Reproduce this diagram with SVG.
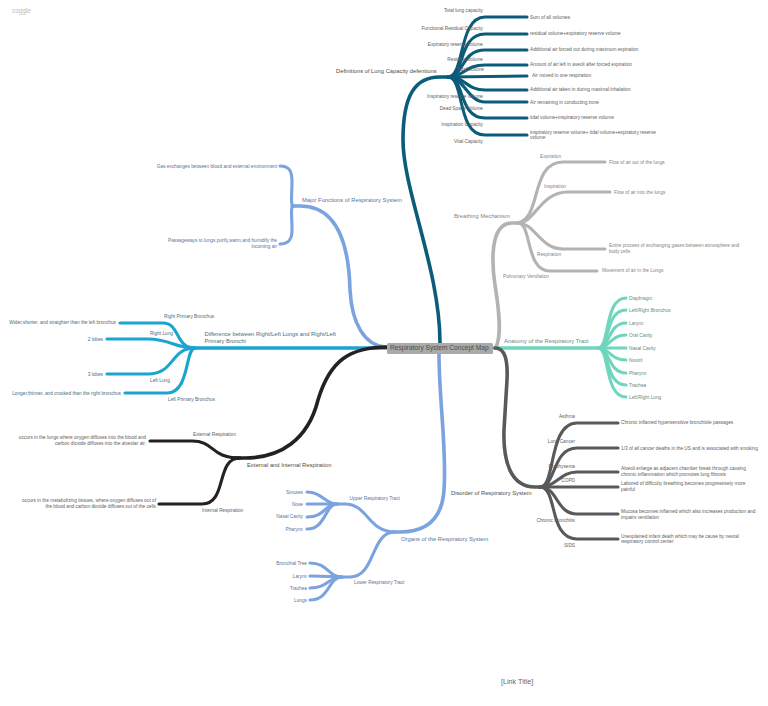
<svg xmlns="http://www.w3.org/2000/svg" width="768" height="706" viewBox="0 0 768 706">
<style>
text{font-family:"Liberation Sans",Arial,sans-serif;font-size:4.75px;fill:#5e5e5e}
.e{text-anchor:end}
.m{font-size:5.8px}
path{fill:none;stroke-linecap:round}
.w{stroke-width:3.1}
.t{stroke-width:3.6}
.teal{stroke:#0b5c7a}.grey{stroke:#b3b3b3}.mint{stroke:#6fd6bd}.dark{stroke:#595959}.blue{stroke:#7ba3e0}.cyan{stroke:#1aa5d0}.black{stroke:#222}
.tb{fill:#5a72a0}.tc{fill:#4a6c7e}.tg{fill:#848484}.tm{fill:#688a82}.tk{fill:#4c4c4c}
</style>
<rect width="768" height="706" fill="#fff"/>
<g id="connectors">
<g class="teal w">
<path class="t" d="M440 343C440 270 403 190 403 140C403 95 415 77 440 77L453 77"/>
<path d="M448 77C465 77 458 17 485 17L527 17"/>
<path d="M448 77C465 77 458 34 485 34L527 34"/>
<path d="M448 77C464 77 461 50 485 50L527 50"/>
<path d="M448 77C464 77 465 65 485 65L527 65"/>
<path d="M448 77L527 76"/>
<path d="M448 77C466 77 466 90 485 90L527 90"/>
<path d="M448 77C464 77 468 102 485 102L527 102"/>
<path d="M448 77C465 77 458 118 485 118L527 118"/>
<path d="M448 77C465 77 456 135 485 135L527 135"/>
</g>
<g class="grey w">
<path class="t" d="M496 347C502 335 499 310 495 285C492 265 489 223 512 223L522 223"/>
<path d="M518 223C542 218 530 162 563 162L605 162"/>
<path d="M518 223C535 223 540 192 568 192L610 192"/>
<path d="M518 223C535 223 540 249 563 249L605 249"/>
<path d="M518 223C532 223 525 271 550 271L597 271"/>
</g>
<g class="mint w">
<path class="t" d="M493 348L600 348"/>
<path d="M598 348C610 348 604 298 626 298"/>
<path d="M598 348C610 348 605 310 626 310"/>
<path d="M598 348C610 348 608 323 626 323"/>
<path d="M598 348C610 348 610 335 626 335"/>
<path d="M598 348L626 348"/>
<path d="M598 348C610 348 610 360 626 360"/>
<path d="M598 348C610 348 608 373 626 373"/>
<path d="M598 348C610 348 605 385 626 385"/>
<path d="M598 348C610 348 604 397 626 397"/>
</g>
<g class="dark w">
<path class="t" d="M495 348C505 348 508 360 507 380L504 430C503 460 510 487 535 487L545 487"/>
<path d="M540 487C556 487 548 423 577 423L618 423"/>
<path d="M540 487C556 487 552 448 577 448L618 448"/>
<path d="M540 487C556 487 560 472 577 472L618 472"/>
<path d="M540 487L618 487"/>
<path d="M540 487C558 487 556 514 577 514L618 514"/>
<path d="M540 487C558 487 548 539 577 539L618 539"/>
</g>
<g class="blue w">
<path class="t" d="M385 347C365 345 352 325 350 290C349 250 340 206 300 206L292 206"/>
<path d="M294 206C290 206 292 195 292 182C292 172 290 166 280 166"/>
<path d="M294 206C290 206 292 215 292 230C292 238 290 244 280 244"/>
<path class="t" d="M439 354C439 400 447 450 444 490C442 520 425 532 400 532L392 532"/>
<path d="M395 532C368 532 368 504 345 504L328 504"/>
<path d="M395 532C370 532 376 577 350 577L332 577"/>
<path d="M337 504C325 504 322 492 307 492"/>
<path d="M337 504L307 504"/>
<path d="M337 504C325 504 325 517 307 517"/>
<path d="M337 504C325 504 326 529 307 529"/>
<path d="M342 577C328 577 328 563 310 563"/>
<path d="M342 577C330 577 328 576 310 576"/>
<path d="M342 577C328 577 328 588 310 588"/>
<path d="M342 577C328 577 330 600 310 600"/>
</g>
<g class="cyan w">
<path class="t" d="M387 348L188 348"/>
<path d="M195 348C175 348 180 323 163 323L120 323"/>
<path d="M195 348C175 348 170 339 148 339L107 339"/>
<path d="M195 348C170 348 175 374 148 374L107 374"/>
<path d="M195 348C185 348 190 393 167 393L125 393"/>
</g>
<g class="black w">
<path class="t" d="M388 347C350 347 330 360 318 400C308 440 280 458 245 458L235 458"/>
<path d="M240 458C210 458 215 441 192 441L150 441"/>
<path d="M240 458C215 458 228 504 202 504L159 504"/>
</g>
</g>
<g id="root"><rect x="387" y="343" width="106" height="11" rx="1.5" fill="#aaa"/><text x="390" y="350" style="font-size:6.6px;fill:#4c4c4c">Respiratory System Concept Map</text></g>
<g id="definitions"><text class="m tk" x="336" y="72.5">Definitions of Lung Capacity defentions</text>
<text class="e" x="483" y="12">Total lung capacity</text><text class="e" x="483" y="30">Functional Residual Capacity</text><text class="e" x="483" y="46">Expiratory reserve volume</text><text class="e" x="483" y="61">Residual Volume</text><text class="e" x="484" y="71">Tidal Volume</text><text class="e" x="483" y="98">Inspiratory reserve volume</text><text class="e" x="483" y="110">Dead Space Volume</text><text class="e" x="483" y="126">Inspiration Capacity</text><text class="e" x="483" y="143">Vital Capacity</text>
<text x="530" y="18.5">Sum of all volumes</text><text x="530" y="35">residual volume+expiratory reserve volume</text><text x="530" y="51">Additional air forced out during maximum expiration</text><text x="530" y="66">Amount of air left in aveoli after forced expiration</text><text x="532" y="76.5">Air moved in one respiration</text><text x="530" y="91">Additional air taken in during maximal inhalation</text><text x="530" y="104">Air remaining in conducting zone</text><text x="530" y="119">tidal volume+inspiratory reserve volume</text><text x="530" y="133.5">inspiratory reserve volume+ tidal volume+expiratory reserve</text><text x="530" y="139">volume</text></g>
<g id="breathing"><text class="m tg" x="454" y="218">Breathing Mechanism</text>
<text class="tg" x="540" y="158">Expiration</text><text class="tg" x="544" y="187.5">Inspiration</text><text class="tg" x="537" y="255.5">Respiration</text><text class="tg" x="503" y="278">Pulmonary Ventilation</text>
<text class="tg" x="609" y="163.5">Flow of air out of the lungs</text><text class="tg" x="614" y="193.5">Flow of air into the lungs</text><text class="tg" x="609" y="246.5">Entire process of exchanging gases between atmosphere and</text><text class="tg" x="609" y="252.5">body cells</text><text class="tg" x="602" y="271.5">Movement of air in the Lungs</text></g>
<g id="anatomy"><text class="m tm" x="504" y="343">Anatomy of the Respiratory Tract</text>
<text class="tm" x="629" y="299.5">Diaphragm</text><text class="tm" x="629" y="312">Left/Right Bronchus</text><text class="tm" x="629" y="325">Larynx</text><text class="tm" x="629" y="337">Oral Cavity</text><text class="tm" x="629" y="349.5">Nasal Cavity</text><text class="tm" x="629" y="362">Nostril</text><text class="tm" x="629" y="374.5">Pharynx</text><text class="tm" x="629" y="386.5">Trachea</text><text class="tm" x="629" y="399">Left/Right Lung</text></g>
<g id="disorder"><text class="m tk" x="451" y="495">Disorder of Respiratory System</text>
<text class="e" x="575" y="418">Asthma</text><text class="e" x="575" y="443">Lung Cancer</text><text class="e" x="575" y="468">Emphysema</text><text class="e" x="575" y="482">COPD</text><text class="e" x="575" y="522">Chronic Bronchitis</text><text class="e" x="575" y="547">SIDS</text>
<text x="621" y="424">Chronic inflamed hypersensitive bronchiole passages</text><text x="621" y="449.5">1/3 of all cancer deaths in the US and is associated with smoking</text><text x="621" y="470">Alveoli enlarge as adjacent chamber break through causing</text><text x="621" y="475.5">chronic inflammation which promotes lung fibrosis</text><text x="621" y="485">Labored of difficulty breathing becomes progressively more</text><text x="621" y="491">painful</text><text x="621" y="513">Mucosa becomes inflamed which also increases production and</text><text x="621" y="519">impairs ventilation</text><text x="621" y="538">Unexplained infant death which may be cause by neural</text><text x="621" y="543">respiratory control center</text></g>
<g id="functions"><text class="m tb" x="302" y="202">Major Functions of Respiratory System</text>
<text class="e tb" x="277" y="168">Gas exchanges between blood and external environment</text><text class="e tb" x="277" y="242">Passageways to lungs purify,warm,and humidify the</text><text class="e tb" x="277" y="248">incoming air</text></g>
<g id="difference"><text class="m tc" x="204.5" y="336">Difference between Right/Left Lungs and Right/Left</text><text class="m tc" x="204.5" y="343">Primary Bronchi</text>
<text class="tc" x="164" y="318">Right Primary Bronchus</text><text class="tc" x="150" y="334.5">Right Lung</text><text class="tc" x="150" y="382">Left Lung</text><text class="tc" x="168" y="400.5">Left Primary Bronchus</text>
<text class="e tc" x="116" y="324">Wider,shorter, and straighter than the left bronchus</text><text class="e tc" x="103" y="341">2 lobes</text><text class="e tc" x="103" y="376">3 lobes</text><text class="e tc" x="121" y="394.5">Longer,thinner, and crooked than the right bronchus</text></g>
<g id="exchange"><text class="m tk" x="247" y="466.5">External and Internal Respiration</text>
<text x="193" y="436">External Respiration</text><text x="202" y="512">Internal Respiration</text>
<text class="e" x="146" y="439">occurs in the lungs where oxygen diffuses into the blood and</text><text class="e" x="146" y="445">carbon dioxide diffuses into the alveolar air.</text><text class="e" x="156" y="502">occurs in the metabolizing tissues, where oxygen diffuses out of</text><text class="e" x="156" y="508">the blood and carbon dioxide diffuses out of the cells</text></g>
<g id="organs"><text class="m tb" x="401" y="541">Organs of the Respiratory System</text>
<text class="tb" x="349.5" y="500">Upper Respiratory Tract</text><text class="tb" x="354" y="584">Lower Respiratory Tract</text>
<text class="e tb" x="303" y="493.5">Sinuses</text><text class="e tb" x="303" y="505.5">Nose</text><text class="e tb" x="303" y="518">Nasal Cavity</text><text class="e tb" x="303" y="530.5">Pharynx</text>
<text class="e tb" x="307" y="564.5">Bronchial Tree</text><text class="e tb" x="307" y="577.5">Larynx</text><text class="e tb" x="307" y="589.5">Trachea</text><text class="e tb" x="307" y="601.5">Lungs</text></g>
<g id="link"><text x="501" y="684" style="font-size:7.2px;fill:#666">[Link Title]</text></g>
<g id="brand"><text x="12" y="12.5" style="font-size:6.4px;fill:#bbb">coggle</text></g>
</svg>
